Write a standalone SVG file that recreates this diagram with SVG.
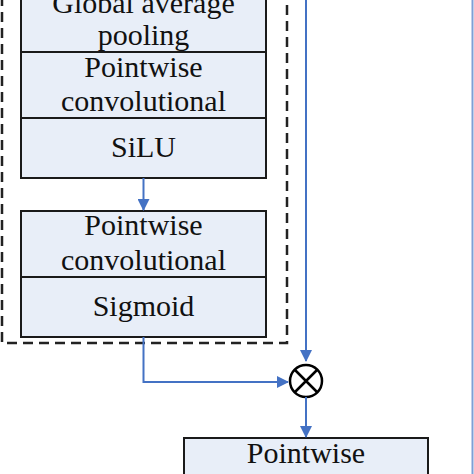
<svg xmlns="http://www.w3.org/2000/svg" width="474" height="474" viewBox="0 0 474 474">
<defs>
<style>
.box{fill:#e8eef8;stroke:#1a1a1a;stroke-width:2}
.div{stroke:#1a1a1a;stroke-width:2}
.t{font-family:"Liberation Serif","Times New Roman",serif;font-size:30px;fill:#111;text-anchor:middle}
.c{fill:none;stroke:#4472c4;stroke-width:2}
.dash{fill:none;stroke:#222;stroke-width:2.5;stroke-dasharray:10 6}
</style>
<marker id="ah" viewBox="0 0 12 12" refX="11" refY="6" markerWidth="12" markerHeight="12" markerUnits="userSpaceOnUse" orient="auto">
<path d="M0,0 L12,6 L0,12 Z" fill="#4472c4"/>
</marker>
</defs>
<rect width="474" height="474" fill="#fff"/>
<rect id="se-frame" class="dash" x="2" y="-30" width="285" height="373"/>
<g id="block1">
<rect class="box" x="21" y="-40" width="245" height="218"/>
<line class="div" x1="21" y1="52" x2="266" y2="52"/>
<line class="div" x1="21" y1="118" x2="266" y2="118"/>
<text class="t" x="143.5" y="13">Global average</text>
<text class="t" x="143.5" y="45">pooling</text>
<text class="t" x="143.5" y="77">Pointwise</text>
<text class="t" x="143.5" y="111">convolutional</text>
<text class="t" x="143.5" y="157">SiLU</text>
</g>
<g id="block2">
<rect class="box" x="21" y="211" width="245" height="126"/>
<line class="div" x1="21" y1="277" x2="266" y2="277"/>
<text class="t" x="143.5" y="235">Pointwise</text>
<text class="t" x="143.5" y="270">convolutional</text>
<text class="t" x="143.5" y="316">Sigmoid</text>
</g>
<g id="multiply">
<circle cx="306" cy="381" r="16" fill="#fff" stroke="#000" stroke-width="2.5"/>
<path d="M295,370 L317,392 M317,370 L295,392" stroke="#000" stroke-width="2.5"/>
</g>
<g id="block3">
<rect class="box" x="184" y="438" width="244" height="60"/>
<text class="t" x="306" y="463">Pointwise</text>
</g>
<g id="connectors">
<line class="c" x1="143.5" y1="178" x2="143.5" y2="210" marker-end="url(#ah)"/>
<line class="c" x1="306" y1="0" x2="306" y2="361" marker-end="url(#ah)"/>
<polyline class="c" points="143.5,337 143.5,382 288,382" marker-end="url(#ah)"/>
<line class="c" x1="306" y1="397" x2="306" y2="437" marker-end="url(#ah)"/>
<line x1="472.5" y1="0" x2="472.5" y2="474" stroke="#7f9fd5" stroke-width="2"/>
</g>
</svg>
